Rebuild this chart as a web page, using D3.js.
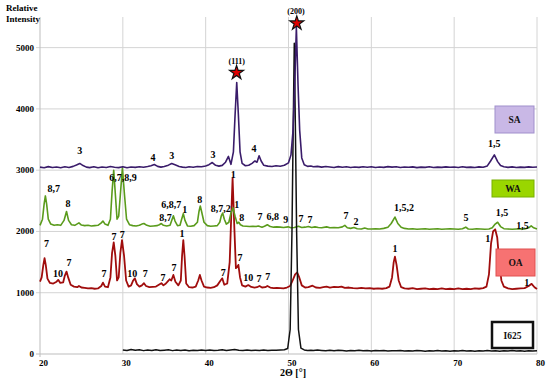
<!DOCTYPE html>
<html>
<head>
<meta charset="utf-8">
<script src="https://cdn.jsdelivr.net/npm/d3@7"></script>
<style>
	body { margin: 0; background: #fff; }
	text { font-family: "Liberation Serif", "Times New Roman", serif; font-weight: bold; }
</style>
</head>
<body>
<div class="chart"></div>
<script>
// DATA
var xTicks = [20, 30, 40, 50, 60, 70, 80];
var yTicks = [0, 1000, 2000, 3000, 4000, 5000];
var seriesNames = ["SA", "WA", "OA", "I625"];

// [2theta, intensity]
var sa = [[20,3050],[20.5,3040],[21,3058],[21.5,3045],[22,3052],[22.5,3040],[23,3055],[23.5,3045],[24,3062],[24.4,3085],[24.8,3110],[25.2,3075],[25.6,3050],[26,3042],[26.5,3056],[27,3040],[27.5,3052],[28,3044],[28.5,3060],[29,3048],[29.5,3042],[30,3056],[30.5,3040],[31,3052],[31.5,3046],[32,3056],[32.5,3048],[33,3060],[33.4,3072],[33.8,3092],[34.2,3062],[34.6,3050],[35,3060],[35.5,3082],[35.9,3110],[36.3,3088],[36.8,3060],[37.2,3050],[37.6,3045],[38,3056],[38.5,3048],[39,3060],[39.5,3055],[40,3068],[40.4,3090],[40.8,3125],[41.2,3080],[41.6,3066],[42,3078],[42.4,3130],[42.75,3225],[43.05,3095],[43.35,3300],[43.55,3900],[43.75,4430],[43.95,3900],[44.15,3300],[44.4,3110],[44.8,3072],[45.2,3080],[45.6,3112],[45.95,3150],[46.2,3130],[46.45,3235],[46.7,3150],[47,3082],[47.5,3066],[48,3060],[48.5,3072],[49,3064],[49.5,3080],[50,3120],[50.3,3250],[50.55,3650],[50.75,4400],[50.95,5330],[51.15,4400],[51.35,3650],[51.6,3200],[51.9,3090],[52.3,3062],[52.7,3068],[53,3055],[53.5,3062],[54,3050],[54.5,3060],[55,3052],[55.5,3045],[56,3058],[56.5,3048],[57,3055],[57.5,3044],[58,3052],[58.5,3046],[59,3056],[59.5,3048],[60,3055],[60.5,3044],[61,3052],[61.5,3046],[62,3058],[62.5,3050],[63,3056],[63.5,3044],[64,3052],[64.5,3048],[65,3054],[65.5,3042],[66,3050],[66.5,3046],[67,3056],[67.5,3044],[68,3050],[68.5,3046],[69,3054],[69.5,3048],[70,3052],[70.5,3044],[71,3056],[71.5,3046],[72,3050],[72.5,3044],[73,3054],[73.5,3048],[74,3070],[74.4,3150],[74.85,3250],[75.25,3140],[75.6,3075],[76,3055],[76.5,3046],[77,3054],[77.5,3044],[78,3050],[78.5,3046],[79,3054],[79.5,3048],[80,3052]];

var wa = [[20,2100],[20.3,2200],[20.5,2450],[20.65,2580],[20.8,2450],[21,2200],[21.3,2120],[21.7,2100],[22.1,2110],[22.5,2100],[22.9,2180],[23.2,2325],[23.45,2180],[23.8,2110],[24.2,2100],[24.7,2140],[25,2105],[25.4,2095],[25.8,2100],[26.2,2090],[26.6,2095],[27,2100],[27.4,2140],[27.6,2170],[27.85,2120],[28.2,2100],[28.5,2200],[28.7,2650],[28.9,3000],[29.1,2600],[29.3,2200],[29.5,2250],[29.7,2600],[29.95,3040],[30.2,2600],[30.45,2200],[30.8,2110],[31.2,2095],[31.6,2090],[32,2100],[32.3,2120],[32.55,2130],[32.9,2100],[33.3,2085],[33.7,2090],[34.1,2095],[34.4,2110],[34.65,2130],[34.9,2100],[35.3,2090],[35.7,2100],[35.9,2180],[36.1,2255],[36.3,2170],[36.6,2095],[36.9,2100],[37.1,2200],[37.3,2290],[37.5,2180],[37.8,2090],[38.2,2085],[38.6,2095],[39,2150],[39.2,2330],[39.35,2415],[39.5,2330],[39.8,2150],[40.2,2095],[40.6,2085],[41,2090],[41.4,2095],[41.7,2150],[41.9,2260],[42.05,2300],[42.25,2200],[42.5,2120],[42.8,2150],[43.05,2300],[43.3,2385],[43.55,2250],[43.8,2130],[44,2150],[44.2,2110],[44.5,2090],[44.9,2085],[45.3,2080],[45.7,2085],[46.1,2080],[46.35,2090],[46.55,2080],[46.8,2070],[47.1,2085],[47.45,2110],[47.8,2080],[48.2,2070],[48.6,2075],[49,2070],[49.4,2065],[49.95,2075],[50.3,2060],[50.7,2065],[51.2,2085],[51.6,2065],[52,2070],[52.4,2080],[52.8,2065],[53.2,2075],[53.6,2065],[54,2060],[54.6,2075],[55,2060],[55.5,2065],[56,2060],[56.5,2075],[56.8,2100],[57.1,2060],[57.5,2050],[57.9,2065],[58.3,2045],[58.8,2040],[59.2,2055],[59.6,2040],[60,2040],[60.5,2045],[61,2040],[61.5,2050],[62,2070],[62.4,2130],[62.85,2235],[63.2,2130],[63.6,2070],[64,2050],[64.5,2040],[65,2045],[65.5,2035],[66,2040],[66.5,2045],[67,2035],[67.5,2040],[68,2045],[68.5,2035],[69,2040],[69.5,2045],[70,2040],[70.5,2035],[71,2045],[71.4,2070],[71.7,2040],[72.2,2035],[72.7,2045],[73.2,2040],[73.7,2035],[74.2,2040],[74.6,2060],[74.95,2120],[75.25,2150],[75.6,2080],[76,2045],[76.5,2040],[77,2035],[77.5,2040],[78,2045],[78.5,2040],[79,2060],[79.3,2090],[79.6,2060],[80,2040]];

var oa = [[20,1180],[20.2,1250],[20.4,1450],[20.55,1565],[20.7,1450],[20.9,1230],[21.2,1160],[21.6,1150],[22,1180],[22.2,1210],[22.45,1160],[22.8,1170],[23,1280],[23.2,1345],[23.4,1250],[23.7,1130],[24.1,1100],[24.5,1090],[24.7,1110],[25,1085],[25.4,1080],[25.8,1070],[26.2,1075],[26.6,1065],[27,1070],[27.4,1110],[27.6,1165],[27.85,1100],[28.2,1090],[28.5,1250],[28.7,1650],[28.9,1820],[29.1,1600],[29.3,1200],[29.5,1250],[29.7,1650],[29.9,1860],[30.15,1600],[30.4,1200],[30.7,1100],[31,1120],[31.25,1200],[31.45,1235],[31.7,1140],[32,1100],[32.3,1120],[32.55,1155],[32.8,1110],[33.2,1090],[33.6,1095],[34,1100],[34.35,1130],[34.65,1155],[34.9,1120],[35.2,1150],[35.45,1190],[35.65,1220],[35.85,1200],[36.1,1290],[36.35,1180],[36.7,1120],[37,1200],[37.15,1600],[37.3,1860],[37.45,1600],[37.65,1150],[38,1090],[38.4,1085],[38.8,1100],[39.1,1200],[39.3,1290],[39.5,1200],[39.8,1100],[40.2,1085],[40.6,1080],[41,1090],[41.4,1120],[41.8,1200],[42,1235],[42.25,1130],[42.6,1150],[42.9,1500],[43.1,2300],[43.25,2870],[43.45,2100],[43.65,1400],[43.8,1420],[43.95,1455],[44.15,1250],[44.4,1120],[44.8,1100],[45.15,1125],[45.5,1095],[45.9,1085],[46.2,1090],[46.5,1110],[46.8,1085],[47.2,1090],[47.45,1110],[47.8,1085],[48.2,1075],[48.6,1080],[49,1075],[49.4,1070],[49.8,1085],[50.2,1110],[50.5,1200],[50.8,1300],[51.05,1330],[51.3,1250],[51.6,1120],[52,1085],[52.4,1090],[52.9,1115],[53.3,1085],[53.8,1080],[54.2,1090],[54.6,1100],[55,1085],[55.5,1095],[56,1090],[56.4,1100],[56.8,1080],[57.3,1085],[57.8,1075],[58.3,1070],[58.8,1080],[59.3,1070],[59.8,1075],[60.3,1065],[60.8,1070],[61.3,1065],[61.8,1075],[62.2,1100],[62.5,1250],[62.7,1500],[62.85,1590],[63.05,1450],[63.3,1200],[63.6,1090],[64,1070],[64.5,1065],[65,1075],[65.5,1060],[66,1065],[66.5,1070],[67,1060],[67.5,1065],[68,1060],[68.5,1070],[69,1060],[69.5,1065],[70,1060],[70.5,1070],[71,1060],[71.5,1065],[72,1060],[72.5,1070],[73,1065],[73.5,1075],[73.9,1100],[74.2,1300],[74.45,1800],[74.7,2000],[74.95,2035],[75.2,1900],[75.45,1500],[75.7,1200],[76,1100],[76.5,1070],[77,1060],[77.5,1065],[78,1070],[78.5,1075],[79,1110],[79.35,1145],[79.7,1090],[80,1060]];

var i625 = [[30,66],[30.5,58],[31,72],[31.5,60],[32,68],[32.5,55],[33,64],[33.5,58],[34,70],[34.5,56],[35,62],[35.5,68],[36,55],[36.5,64],[37,58],[37.5,66],[38,54],[38.5,62],[39,58],[39.5,66],[40,56],[40.5,64],[41,58],[41.5,62],[42,68],[42.5,56],[43,64],[43.5,72],[44,60],[44.5,58],[45,64],[45.5,56],[46,62],[46.5,58],[47,66],[47.5,56],[48,62],[48.5,60],[49,66],[49.5,70],[49.9,90],[50.2,400],[50.42,2000],[50.56,3600],[50.7,5070],[50.84,3600],[50.98,2000],[51.2,400],[51.5,95],[51.9,66],[52.3,58],[52.7,62],[53,56],[53.5,64],[54,58],[54.5,52],[55,60],[55.5,54],[56,62],[56.5,56],[57,50],[57.5,58],[58,54],[58.5,60],[59,52],[59.5,56],[60,50],[60.5,58],[61,52],[61.5,56],[62,48],[62.5,55],[63,52],[63.5,58],[64,50],[64.5,54],[65,48],[65.5,56],[66,52],[66.5,46],[67,54],[67.5,50],[68,56],[68.5,48],[69,52],[69.5,46],[70,54],[70.5,50],[71,56],[71.5,48],[72,52],[72.5,46],[73,54],[73.5,50],[74,56],[74.5,48],[75,52],[75.5,46],[76,54],[76.5,50],[77,56],[77.5,48],[78,52],[78.5,46],[79,54],[79.5,50],[80,52]];

// peak annotations [2theta, intensity, text]
var saLabels = [[24.8,3268,"3"],[33.65,3154,"4"],[35.9,3186,"3"],[40.9,3203,"3"],[45.85,3300,"4"],[74.85,3382,"1,5"]];
var waLabels = [[21.66,2639,"8,7"],[23.38,2394,"8"],[30.02,2827,"6,7,8,9"],[35.85,2386,"6,8,7"],[35.15,2173,"8,7"],[37.47,2296,"1"],[39.28,2459,"8"],[41.83,2312,"8,7,2"],[43.75,2377,"1"],[44.35,2173,"8"],[46.56,2190,"7"],[48.1,2190,"6,8"],[49.66,2132,"9"],[51.5,2149,"7"],[52.6,2140,"7"],[56.94,2206,"7"],[58.15,2108,"2"],[63.95,2328,"1,5,2"],[71.43,2165,"5"],[75.78,2247,"1,5"],[78.25,2042,"1,5"]];
var oaLabels = [[20.77,1740,"7"],[22.17,1258,"10"],[23.5,1438,"7"],[27.73,1250,"7"],[28.93,1863,"7"],[29.94,1895,"7"],[31.15,1250,"10"],[32.72,1250,"7"],[34.85,1193,"7"],[36.18,1348,"7"],[37.14,1912,"1"],[43.34,2876,"1"],[42.13,1266,"7"],[44.15,1511,"7"],[45.15,1185,"10"],[46.44,1168,"7"],[47.49,1209,"7"],[62.86,1658,"1"],[74.05,1822,"1"],[78.76,1111,"1"]];
var planeLabels = [[43.75,4739,"(111)"],[50.9,5556,"(200)"]];
var stars = [[43.73,4608],[51.0,5415]];

// CHART
var width = 550, height = 382;
var svg = d3.select(".chart").append("svg")
	.attr("width", width)
	.attr("height", height);

var x = d3.scaleLinear().domain([20, 80]).range([40, 537]);
var y = d3.scaleLinear().domain([0, 5500]).range([354, 17]);

// grid
svg.append("g").selectAll("line")
	.data(yTicks.slice(1))
	.enter().append("line")
		.attr("x1", x(20) - 4).attr("x2", x(80))
		.attr("y1", y).attr("y2", y)
		.attr("stroke", "#d4d4d4");

svg.append("g").selectAll("line")
	.data(xTicks.slice(1))
	.enter().append("line")
		.attr("x1", x).attr("x2", x)
		.attr("y1", y(0)).attr("y2", y(5500))
		.attr("stroke", "#d4d4d4");

svg.append("line")
	.attr("x1", x(20)).attr("x2", x(20))
	.attr("y1", y(0) + 3).attr("y2", y(5500))
	.attr("stroke", "#bdbdbd");
svg.append("line")
	.attr("x1", x(20) - 4).attr("x2", x(80))
	.attr("y1", y(0)).attr("y2", y(0))
	.attr("stroke", "#bdbdbd");

// tick labels
svg.append("g").selectAll("text")
	.data(yTicks)
	.enter().append("text")
		.attr("x", x(20) - 6)
		.attr("y", function(d) { return y(d) + 3; })
		.attr("text-anchor", "end")
		.attr("font-size", 9)
		.text(function(d) { return d; });

svg.append("g").selectAll("text")
	.data(xTicks)
	.enter().append("text")
		.attr("x", function(d) { return x(d) - 1; })
		.attr("y", y(0) + 12)
		.attr("font-size", 9)
		.text(function(d) { return d; });

svg.append("text")
	.attr("x", 6).attr("y", 11)
	.attr("font-size", 9)
	.text("Relative");
svg.append("text")
	.attr("x", 6).attr("y", 22)
	.attr("font-size", 9)
	.text("Intensity");
svg.append("text")
	.attr("x", 293).attr("y", 376)
	.attr("text-anchor", "middle")
	.attr("font-size", 10)
	.text("2Θ [°]");

// curves
var line = d3.line()
	.x(function(d) { return x(d[0]); })
	.y(function(d) { return y(d[1]); });

var curves = [
	{ data: oa, color: "#a00d0d", w: 1.8 },
	{ data: wa, color: "#5a9b1c", w: 1.6 },
	{ data: i625, color: "#111111", w: 1.5 },
	{ data: sa, color: "#3a1c6a", w: 1.6 }
];

svg.append("g").selectAll("path")
	.data(curves)
	.enter().append("path")
		.attr("d", function(d) { return line(d.data); })
		.attr("fill", "none")
		.attr("stroke", function(d) { return d.color; })
		.attr("stroke-width", function(d) { return d.w; })
		.attr("stroke-linejoin", "round");

// peak labels
var allLabels = saLabels.concat(waLabels, oaLabels);
svg.append("g").selectAll("text")
	.data(allLabels)
	.enter().append("text")
		.attr("x", function(d) { return x(d[0]); })
		.attr("y", function(d) { return y(d[1]); })
		.attr("text-anchor", "middle")
		.attr("font-size", 10)
		.text(function(d) { return d[2]; });

svg.append("g").selectAll("text")
	.data(planeLabels)
	.enter().append("text")
		.attr("x", function(d) { return x(d[0]); })
		.attr("y", function(d) { return y(d[1]); })
		.attr("text-anchor", "middle")
		.attr("font-size", 8)
		.text(function(d) { return d[2]; });

svg.append("g").selectAll("path")
	.data(stars)
	.enter().append("path")
		.attr("transform", function(d) { return "translate(" + x(d[0]) + "," + (y(d[1]) + 1) + ")"; })
		.attr("d", d3.symbol(d3.symbolStar, 60))
		.attr("fill", "#e00000")
		.attr("stroke", "#111")
		.attr("stroke-width", 1.2);

// legend boxes
var boxLayout = {
	SA: { x: 495, y: 106, w: 39, h: 27, fill: "#c9b8e6", stroke: "#a08fcc", sw: 1 },
	WA: { x: 492, y: 180, w: 42, h: 17, fill: "#9ad600", stroke: "#78b000", sw: 1 },
	OA: { x: 496, y: 249, w: 39, h: 27, fill: "#f77272", stroke: "#e05050", sw: 1 },
	I625: { x: 492, y: 322, w: 41, h: 26, fill: "#ffffff", stroke: "#111111", sw: 2.5 }
};

var legend = svg.append("g").selectAll("g")
	.data(seriesNames)
	.enter().append("g");

legend.append("rect")
	.attr("x", function(d) { return boxLayout[d].x; })
	.attr("y", function(d) { return boxLayout[d].y; })
	.attr("width", function(d) { return boxLayout[d].w; })
	.attr("height", function(d) { return boxLayout[d].h; })
	.attr("fill", function(d) { return boxLayout[d].fill; })
	.attr("stroke", function(d) { return boxLayout[d].stroke; })
	.attr("stroke-width", function(d) { return boxLayout[d].sw; });

legend.append("text")
	.attr("x", function(d) { return boxLayout[d].x + boxLayout[d].w / 2; })
	.attr("y", function(d) { return boxLayout[d].y + boxLayout[d].h / 2 + 3.5; })
	.attr("text-anchor", "middle")
	.attr("font-size", 9.5)
	.attr("fill", "#111")
	.text(function(d) { return d; });
</script>
</body>
</html>
